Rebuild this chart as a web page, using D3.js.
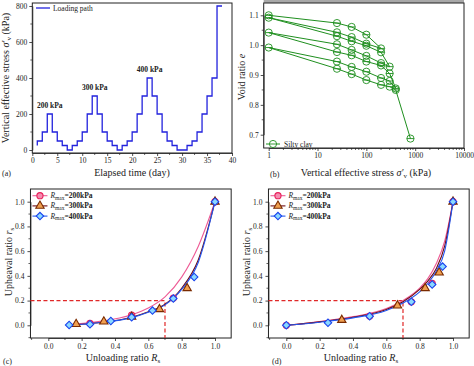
<!DOCTYPE html>
<html>
<head>
<meta charset="utf-8">
<script src="https://cdn.jsdelivr.net/npm/d3@7"></script>
<style>
  body { margin: 0; background: #fff; }
  svg { display: block; }
  svg text { font-family: "Liberation Serif", "Times New Roman", Times, serif !important; fill: #222; }
  .tick text { font-size: 7.5px; }
  .axis path, .axis line { stroke: #222; stroke-width: 0.8; }
</style>
</head>
<body>
<svg id="fig" width="474" height="366" font-family="Liberation Serif"></svg>
<script>
// ---- (a) loading path: day at which each step starts, and stress (kPa)
const loadDays   = [1, 1, 2, 3, 4, 5, 6, 7, 8, 9, 10, 11, 12, 13, 14, 15, 16, 17, 18, 19, 20, 21, 22, 23, 24, 25, 26, 27, 28, 29, 30, 31, 32, 33, 34, 35, 36, 37, 38];
const loadStress = [25, 50, 100, 200, 100, 50, 25, 0, 25, 50, 100, 200, 300, 200, 100, 50, 25, 0, 25, 50, 100, 200, 300, 400, 300, 200, 100, 50, 25, 0, 0, 25, 50, 100, 200, 300, 400, 800, 800];
const peakLabels = ["200 kPa", "300 kPa", "400 kPa"];
const peakDays   = [3.5, 12.5, 23.5];
const peakVals   = [200, 300, 400];

// ---- (b) void ratio vs vertical effective stress
const stressB = [1, 25, 50, 100, 200, 100, 50, 25, 1, 25, 50, 100, 200, 300, 200, 100, 50, 25, 1, 25, 50, 100, 200, 300, 400, 300, 200, 100, 50, 25, 1, 25, 50, 100, 200, 300, 400, 800];
const voidB   = [1.100, 1.074, 1.061, 1.035, 0.989, 1.005, 1.027, 1.043, 1.092, 1.030, 1.013, 0.998, 0.976, 0.928, 0.940, 0.964, 0.984, 1.003, 1.042, 0.977, 0.966, 0.945, 0.932, 0.905, 0.855, 0.880, 0.890, 0.911, 0.927, 0.945, 0.992, 0.921, 0.903, 0.883, 0.867, 0.861, 0.850, 0.687];

// ---- (c) upheaval ratio vs unloading ratio
const rsC200 = [0.25, 0.5, 0.75, 1.0];
const upC200 = [0.016, 0.083, 0.22, 1.0];
const rsC300 = [0.167, 0.333, 0.5, 0.667, 0.833, 1.0];
const upC300 = [0.01, 0.03, 0.068, 0.13, 0.30, 1.0];
const rsC400 = [0.125, 0.25, 0.375, 0.5, 0.625, 0.75, 0.875, 1.0];
const upC400 = [0.003, 0.008, 0.035, 0.065, 0.119, 0.216, 0.391, 1.0];
// fitted curves
const fitCx    = [0.125, 0.3, 0.5, 0.6, 0.7, 0.8, 0.9, 1.0];
const fitC200y = [0.005, 0.03, 0.085, 0.14, 0.23, 0.39, 0.64, 1.0];
const fitC300y = [0.0, 0.02, 0.065, 0.11, 0.17, 0.30, 0.53, 1.0];
const fitC400y = [0.0, 0.02, 0.062, 0.105, 0.165, 0.29, 0.51, 1.0];

// ---- (d)
const rsD200 = [0.0, 0.5, 0.75, 0.875, 1.0];
const upD200 = [0.0, 0.075, 0.19, 0.34, 1.0];
const rsD300 = [0.333, 0.667, 0.833, 0.917, 1.0];
const upD300 = [0.043, 0.16, 0.30, 0.426, 1.0];
const rsD400 = [0.0, 0.25, 0.5, 0.75, 0.875, 0.9375, 1.0];
const upD400 = [0.0, 0.02, 0.073, 0.19, 0.33, 0.475, 1.0];
const fitDx    = [0.0, 0.2, 0.4, 0.6, 0.7, 0.8, 0.85, 0.9, 0.95, 1.0];
const fitD200y = [0.0, 0.03, 0.07, 0.135, 0.20, 0.30, 0.38, 0.50, 0.68, 1.0];
const fitD300y = [0.0, 0.028, 0.065, 0.128, 0.19, 0.29, 0.36, 0.46, 0.64, 1.0];
const fitD400y = [0.0, 0.025, 0.06, 0.12, 0.18, 0.27, 0.34, 0.44, 0.60, 1.0];

const legendLabels = ["=200kPa", "=300kPa", "=400kPa"];
const thresholdX = 0.7, thresholdY = 0.2;

const svg = d3.select("#fig");
const ink = "#222";

function frame(g, x0, x1, y0, y1) {
  g.append("rect").attr("x", x0).attr("y", y0).attr("width", x1 - x0).attr("height", y1 - y0)
    .attr("fill", "none").attr("stroke", ink).attr("stroke-width", 1);
}

function minorTicks(g, scale, values, orient, pos) {
  values.forEach(v => {
    const p = scale(v);
    if (orient === "bottom") g.append("line").attr("x1", p).attr("x2", p).attr("y1", pos).attr("y2", pos + 2).attr("stroke", ink).attr("stroke-width", 0.7);
    else g.append("line").attr("y1", p).attr("y2", p).attr("x1", pos).attr("x2", pos - 2).attr("stroke", ink).attr("stroke-width", 0.7);
  });
}

// ================= (a) =================
(function() {
  const g = svg.append("g");
  const x = d3.scaleLinear().domain([0, 40]).range([32.3, 232]);
  const y = d3.scaleLinear().domain([0, 800]).range([150, 6]);
  const L = 32.3, R = 232, T = 3, B = 153;

  g.append("g").attr("class", "axis").attr("transform", `translate(0,${B})`)
    .call(d3.axisBottom(x).tickValues(d3.range(0, 41, 5)).tickSize(3).tickSizeOuter(0).tickPadding(2));
  g.append("g").attr("class", "axis").attr("transform", `translate(${L},0)`)
    .call(d3.axisLeft(y).tickValues(d3.range(0, 801, 200)).tickSize(3).tickSizeOuter(0).tickPadding(2));
  minorTicks(g, x, d3.range(2.5, 40, 5), "bottom", B);
  minorTicks(g, y, d3.range(100, 800, 200), "left", L);
  frame(g, L, R, T, B);

  const pts = loadDays.map((d, i) => [x(d), y(loadStress[i])]);
  g.append("path").attr("d", d3.line().curve(d3.curveStepAfter)(pts))
    .attr("fill", "none").attr("stroke", "#2222dd").attr("stroke-width", 1.3);

  peakLabels.forEach((t, i) => {
    g.append("text").attr("x", x(peakDays[i])).attr("y", y(peakVals[i]) - 6)
      .attr("text-anchor", "middle").attr("font-size", 7.5).attr("font-weight", "bold").text(t);
  });

  g.append("line").attr("x1", 36).attr("x2", 50).attr("y1", 8).attr("y2", 8).attr("stroke", "#2222dd").attr("stroke-width", 1.3);
  g.append("text").attr("x", 53).attr("y", 10.5).attr("font-size", 7.5).text("Loading path");

  g.append("text").attr("x", 132).attr("y", 176).attr("text-anchor", "middle").attr("font-size", 10).text("Elapsed time (day)");
  g.append("text").attr("x", 2).attr("y", 176).attr("font-size", 8).text("(a)");
  const yl = g.append("text").attr("transform", "translate(9,78) rotate(-90)").attr("text-anchor", "middle").attr("font-size", 10);
  yl.append("tspan").text("Vertical effective stress ");
  yl.append("tspan").attr("font-style", "italic").text("σ′");
  yl.append("tspan").attr("font-size", 7).attr("dy", 2).text("v");
  yl.append("tspan").attr("dy", -2).text(" (kPa)");
})();

// ================= (b) =================
(function() {
  const g = svg.append("g");
  const x = d3.scaleLog().domain([1, 10000]).range([268.7, 464]);
  const y = d3.scaleLinear().domain([0.7, 1.1]).range([134.7, 15.3]);
  const L = 263.7, R = 464, T = 3, B = 148;
  const green = "#1f8f1f";

  g.append("rect").attr("x", L).attr("y", 0).attr("width", R - L).attr("height", 3).attr("fill", "#a8a8a8");

  g.append("g").attr("class", "axis").attr("transform", `translate(0,${B})`)
    .call(d3.axisBottom(x).tickValues([1, 10, 100, 1000, 10000]).tickFormat(d3.format("d")).tickSize(3).tickSizeOuter(0).tickPadding(2));
  g.append("g").attr("class", "axis").attr("transform", `translate(${L},0)`)
    .call(d3.axisLeft(y).tickValues([0.7, 0.8, 0.9, 1.0, 1.1]).tickFormat(d3.format(".1f")).tickSize(3).tickSizeOuter(0).tickPadding(2));
  const minors = [];
  [1, 10, 100, 1000].forEach(dec => { for (let k = 2; k <= 9; k++) minors.push(dec * k); });
  minorTicks(g, x, minors, "bottom", B);
  minorTicks(g, y, [0.75, 0.85, 0.95, 1.05], "left", L);
  frame(g, L, R, T, B);

  const pts = stressB.map((s, i) => [x(s), y(voidB[i])]);
  g.append("path").attr("d", d3.line()(pts)).attr("fill", "none").attr("stroke", green).attr("stroke-width", 1);
  pts.forEach(p => {
    g.append("circle").attr("cx", p[0]).attr("cy", p[1]).attr("r", 3.6).attr("fill", "none").attr("stroke", green).attr("stroke-width", 0.9);
    g.append("line").attr("x1", p[0] - 3.6).attr("x2", p[0] + 3.6).attr("y1", p[1]).attr("y2", p[1]).attr("stroke", green).attr("stroke-width", 0.9);
  });

  g.append("line").attr("x1", 266).attr("x2", 280).attr("y1", 144).attr("y2", 144).attr("stroke", green).attr("stroke-width", 1).attr("stroke-dasharray", "3,7,4");
  g.append("circle").attr("cx", 273).attr("cy", 144).attr("r", 3.6).attr("fill", "#fff").attr("stroke", green).attr("stroke-width", 0.9);
  g.append("line").attr("x1", 269.4).attr("x2", 276.6).attr("y1", 144).attr("y2", 144).attr("stroke", green).attr("stroke-width", 0.9);
  g.append("text").attr("x", 284).attr("y", 146.5).attr("font-size", 7.5).text("Silty clay");

  const xl = g.append("text").attr("x", 366).attr("y", 176).attr("text-anchor", "middle").attr("font-size", 10);
  xl.append("tspan").text("Vertical effective stress ");
  xl.append("tspan").attr("font-style", "italic").text("σ′");
  xl.append("tspan").attr("font-size", 7).attr("dy", 2).text("v");
  xl.append("tspan").attr("dy", -2).text(" (kPa)");
  g.append("text").attr("x", 270).attr("y", 177).attr("font-size", 8).text("(b)");
  const yl = g.append("text").attr("transform", "translate(245,77) rotate(-90)").attr("text-anchor", "middle").attr("font-size", 10);
  yl.append("tspan").text("Void ratio ");
  yl.append("tspan").attr("font-style", "italic").text("e");
})();

// ================= (c) & (d) =================
const seriesStyle = [
  { line: "#ee5a95", stroke: "#e8205a", fill: "#f58cb0", shape: d3.symbolCircle, size: 30, rot: 0 },
  { line: "#6e0a14", stroke: "#7a2a00", fill: "#f0a050", shape: d3.symbolTriangle, size: 30, rot: 0 },
  { line: "#2255ee", stroke: "#1a44ee", fill: "#8ad8ff", shape: d3.symbolSquare, size: 28, rot: 45 }
];

function ratioPanel(ox, label, labelX, fitX, fits, pts) {
  const g = svg.append("g");
  const x = d3.scaleLinear().domain([0, 1]).range([ox + 48.3, ox + 215]);
  const y = d3.scaleLinear().domain([0, 1]).range([325.3, 201.7]);
  const L = x(-0.107), R = x(1.097), T = 189, B = 338;

  g.append("g").attr("class", "axis").attr("transform", `translate(0,${B})`)
    .call(d3.axisBottom(x).tickValues(d3.range(0, 1.01, 0.2)).tickFormat(d3.format(".1f")).tickSize(3).tickSizeOuter(0).tickPadding(3));
  g.append("g").attr("class", "axis").attr("transform", `translate(${L},0)`)
    .call(d3.axisLeft(y).tickValues(d3.range(0, 1.01, 0.2)).tickFormat(d3.format(".1f")).tickSize(3).tickSizeOuter(0).tickPadding(3));
  minorTicks(g, x, [-0.1, 0.1, 0.3, 0.5, 0.7, 0.9, 1.1].filter(v => x(v) >= L && x(v) <= R), "bottom", B);
  minorTicks(g, y, [-0.1, 0.1, 0.3, 0.5, 0.7, 0.9].filter(v => y(v) <= B), "left", L);
  frame(g, L, R, T, B);

  // threshold
  g.append("path").attr("d", d3.line()([[L, y(thresholdY)], [x(thresholdX), y(thresholdY)], [x(thresholdX), B]]))
    .attr("fill", "none").attr("stroke", "#e02828").attr("stroke-width", 1.2).attr("stroke-dasharray", "4,2.5");

  const line = d3.line().curve(d3.curveMonotoneX);
  fits.forEach((fy, i) => {
    g.append("path").attr("d", line(fitX.map((v, k) => [x(v), y(fy[k])])))
      .attr("fill", "none").attr("stroke", seriesStyle[i].line).attr("stroke-width", 1.1);
  });
  pts.forEach((s, i) => {
    const st = seriesStyle[i];
    s[0].forEach((v, k) => {
      g.append("path").attr("d", d3.symbol().type(st.shape).size(st.size)())
        .attr("transform", `translate(${x(v)},${y(s[1][k])}) rotate(${st.rot})`)
        .attr("fill", st.fill).attr("stroke", st.stroke).attr("stroke-width", 1.1);
    });
  });

  // legend
  legendLabels.forEach((t, i) => {
    const st = seriesStyle[i];
    const ly = 195.7 + i * 10.2, lx = L + 2;
    g.append("line").attr("x1", lx).attr("x2", lx + 15).attr("y1", ly).attr("y2", ly).attr("stroke", st.line).attr("stroke-width", 1.1);
    g.append("path").attr("d", d3.symbol().type(st.shape).size(st.size)()).attr("transform", `translate(${lx + 7.5},${ly}) rotate(${st.rot})`)
      .attr("fill", st.fill).attr("stroke", st.stroke).attr("stroke-width", 1.1);
    const tx = g.append("text").attr("x", lx + 18).attr("y", ly + 2.5).attr("font-size", 7.5);
    tx.append("tspan").attr("font-style", "italic").text("R");
    tx.append("tspan").attr("font-size", 5.5).attr("dy", 1.5).text("max");
    tx.append("tspan").attr("dy", -1.5).attr("font-weight", "bold").text(t);
  });

  const xl = g.append("text").attr("x", ox + 123).attr("y", 361).attr("text-anchor", "middle").attr("font-size", 10);
  xl.append("tspan").text("Unloading ratio ");
  xl.append("tspan").attr("font-style", "italic").text("R");
  xl.append("tspan").attr("font-size", 7).attr("dy", 2).text("s");
  g.append("text").attr("x", labelX).attr("y", 364).attr("font-size", 8).text(label);
  const yl = g.append("text").attr("transform", `translate(${ox + 12},262) rotate(-90)`).attr("text-anchor", "middle").attr("font-size", 10);
  yl.append("tspan").text("Upheaval ratio ");
  yl.append("tspan").attr("font-style", "italic").text("r");
  yl.append("tspan").attr("font-size", 7).attr("dy", 2).text("s");
}

ratioPanel(0, "(c)", 3, fitCx, [fitC200y, fitC300y, fitC400y],
  [[rsC200, upC200], [rsC300, upC300], [rsC400, upC400]]);
ratioPanel(238, "(d)", 272, fitDx, [fitD200y, fitD300y, fitD400y],
  [[rsD200, upD200], [rsD300, upD300], [rsD400, upD400]]);
</script>
</body>
</html>
